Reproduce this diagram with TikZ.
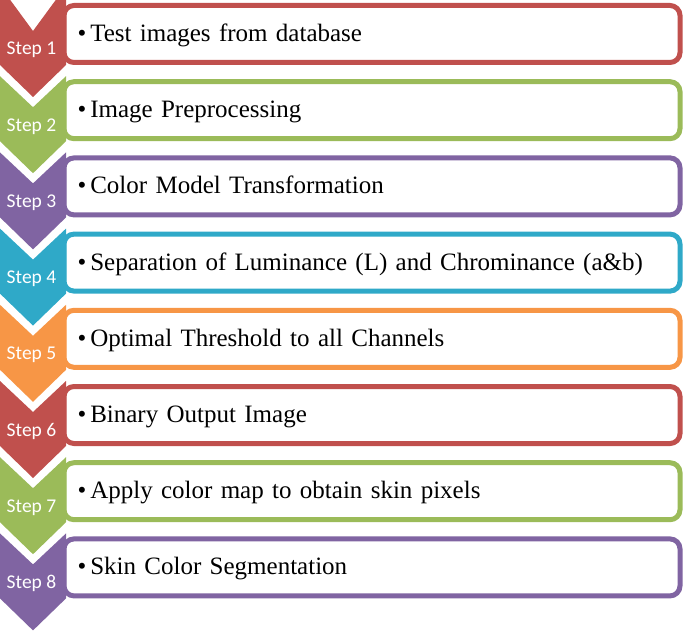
\documentclass[tikz,border=0pt]{standalone}
\usepackage{fontspec}
\setmainfont{Liberation Serif}
\newfontfamily\stepfont{Carlito}
\usepackage{tikz}
\usetikzlibrary{positioning}
\definecolor{c1}{HTML}{C0504D}
\definecolor{c2}{HTML}{9BBB59}
\definecolor{c3}{HTML}{8064A2}
\definecolor{c4}{HTML}{2FA9C8}
\definecolor{c5}{HTML}{F79646}
\tikzset{box/.style={rectangle,draw=#1,line width=5pt,rounded corners=10pt,fill=white,
    minimum width=616pt,minimum height=57pt,inner xsep=13.5pt,inner ysep=0pt,
    text width=589pt,align=left,text height=20pt,text depth=5.2pt,
    font=\fontsize{25}{30}\selectfont}}

\begin{document}
\begin{tikzpicture}[x=1pt,y=-1pt,node distance=76.2pt,on grid]
  \tikzstyle{steplbl}=[anchor=base,text=white,inner sep=0pt,font=\stepfont\fontsize{19.5}{22}\selectfont]
  \useasboundingbox (0,0) rectangle (685,631);

  \node[box=c1] (B1) at (372,34)  {\textbullet\hspace{4pt}Test images from database};
  \node[box=c2] (B2) [below=of B1] {\textbullet\hspace{4pt}Image Preprocessing};
  \node[box=c3] (B3) [below=of B2] {\textbullet\hspace{4pt}Color Model Transformation};
  \node[box=c4] (B4) [below=of B3] {\textbullet\hspace{4pt}Separation of Luminance (L) and Chrominance (a\&b)};
  \node[box=c5] (B5) [below=of B4] {\textbullet\hspace{4pt}Optimal Threshold to all Channels};
  \node[box=c1] (B6) [below=of B5] {\textbullet\hspace{4pt}Binary Output Image};
  \node[box=c2] (B7) [below=of B6] {\textbullet\hspace{4pt}Apply color map to obtain skin pixels};
  \node[box=c3] (B8) [below=of B7] {\textbullet\hspace{4pt}Skin Color Segmentation};

  % chevrons
  \fill[c1] (0,-14) -- (33,31) -- (66,-14) -- (66,65) -- (33,97) -- (0,65) -- cycle;
  \fill[c2,shift={(0,76.2)}]  (0,0) -- (33,31) -- (66,0) -- (66,65) -- (33,97) -- (0,65) -- cycle;
  \fill[c3,shift={(0,152.4)}] (0,0) -- (33,31) -- (66,0) -- (66,65) -- (33,97) -- (0,65) -- cycle;
  \fill[c4,shift={(0,228.6)}] (0,0) -- (33,31) -- (66,0) -- (66,65) -- (33,97) -- (0,65) -- cycle;
  \fill[c5,shift={(0,304.8)}] (0,0) -- (33,31) -- (66,0) -- (66,65) -- (33,97) -- (0,65) -- cycle;
  \fill[c1,shift={(0,381)}]   (0,0) -- (33,31) -- (66,0) -- (66,65) -- (33,97) -- (0,65) -- cycle;
  \fill[c2,shift={(0,457.2)}] (0,0) -- (33,31) -- (66,0) -- (66,65) -- (33,97) -- (0,65) -- cycle;
  \fill[c3,shift={(0,533.4)}] (0,0) -- (33,31) -- (66,0) -- (66,65) -- (33,97) -- (0,65) -- cycle;

  \node[steplbl] (L1) at (31.5,55)    {Step 1};
  \node[steplbl] (L2) at (31.5,131.2) {Step 2};
  \node[steplbl] (L3) at (31.5,207.4) {Step 3};
  \node[steplbl] (L4) at (31.5,283.6) {Step 4};
  \node[steplbl] (L5) at (31.5,359.8) {Step 5};
  \node[steplbl] (L6) at (31.5,436)   {Step 6};
  \node[steplbl] (L7) at (31.5,512.2) {Step 7};
  \node[steplbl] (L8) at (31.5,588.4) {Step 8};
\end{tikzpicture}
\end{document}
